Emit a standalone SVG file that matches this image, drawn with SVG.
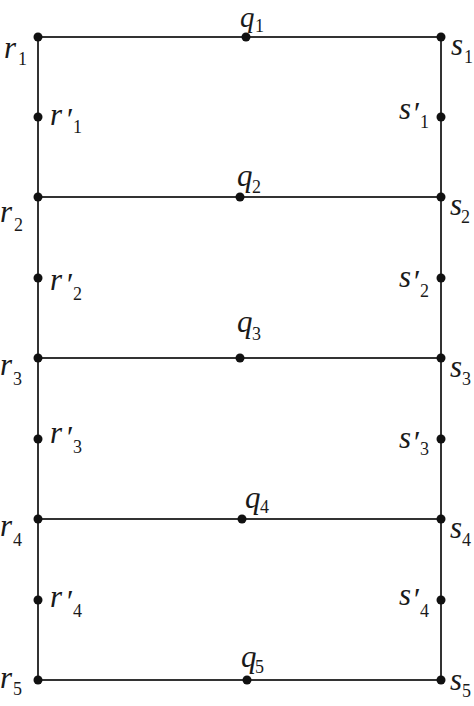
<svg xmlns="http://www.w3.org/2000/svg" width="474" height="706" viewBox="0 0 474 706">
<style>
.e{stroke:#333;stroke-width:2;fill:none}
.d{fill:#111}
text{font-family:'Liberation Serif','DejaVu Serif','Times New Roman',serif;fill:#1a1a1a}
.m{font-size:31px;font-style:italic}
.s{font-size:18px}
</style>
<rect width="474" height="706" fill="#fff"/>
<g id="connectors">
<line class="e" x1="38" y1="37" x2="441" y2="37"/>
<line class="e" x1="38" y1="197" x2="441" y2="197"/>
<line class="e" x1="38" y1="358" x2="441" y2="358"/>
<line class="e" x1="38" y1="519" x2="441" y2="519"/>
<line class="e" x1="38" y1="680" x2="441" y2="680"/>
<line class="e" x1="38" y1="37" x2="38" y2="680"/>
<line class="e" x1="441" y1="37" x2="441" y2="680"/>
</g>
<g id="r1"><circle class="d" cx="38" cy="37" r="4.5"/><text><tspan class="m" x="4" y="58">r</tspan><tspan class="s" x="18" y="65">1</tspan></text></g>
<g id="q1"><circle class="d" cx="246" cy="37" r="4.5"/><text><tspan class="m" x="240" y="27" style="font-size:29px">q</tspan><tspan class="s" x="255" y="32">1</tspan></text></g>
<g id="s1"><circle class="d" cx="441" cy="37" r="4.5"/><text><tspan class="m" x="451" y="55">s</tspan><tspan class="s" x="464" y="63">1</tspan></text></g>
<g id="r1p"><circle class="d" cx="38" cy="117" r="4.5"/><text><tspan class="m" x="50" y="125">r</tspan><tspan class="m" x="65" y="130">′</tspan><tspan class="s" x="73" y="133">1</tspan></text></g>
<g id="s1p"><circle class="d" cx="441" cy="117" r="4.5"/><text><tspan class="m" x="399" y="119">s</tspan><tspan class="m" x="412" y="124">′</tspan><tspan class="s" x="420" y="128">1</tspan></text></g>
<g id="r2"><circle class="d" cx="38" cy="197" r="4.5"/><text><tspan class="m" x="0" y="222">r</tspan><tspan class="s" x="14" y="231">2</tspan></text></g>
<g id="q2"><circle class="d" cx="240" cy="197" r="4.5"/><text><tspan class="m" x="237" y="186">q</tspan><tspan class="s" x="252" y="193">2</tspan></text></g>
<g id="s2"><circle class="d" cx="441" cy="197" r="4.5"/><text><tspan class="m" x="450" y="215">s</tspan><tspan class="s" x="461" y="223">2</tspan></text></g>
<g id="r2p"><circle class="d" cx="38" cy="278" r="4.5"/><text><tspan class="m" x="50" y="290">r</tspan><tspan class="m" x="65" y="295">′</tspan><tspan class="s" x="73" y="300">2</tspan></text></g>
<g id="s2p"><circle class="d" cx="441" cy="278" r="4.5"/><text><tspan class="m" x="399" y="287">s</tspan><tspan class="m" x="412" y="292">′</tspan><tspan class="s" x="420" y="297">2</tspan></text></g>
<g id="r3"><circle class="d" cx="38" cy="358" r="4.5"/><text><tspan class="m" x="0" y="375">r</tspan><tspan class="s" x="13" y="385">3</tspan></text></g>
<g id="q3"><circle class="d" cx="240" cy="358" r="4.5"/><text><tspan class="m" x="237" y="332">q</tspan><tspan class="s" x="252" y="340">3</tspan></text></g>
<g id="s3"><circle class="d" cx="441" cy="358" r="4.5"/><text><tspan class="m" x="450" y="377">s</tspan><tspan class="s" x="462" y="385">3</tspan></text></g>
<g id="r3p"><circle class="d" cx="38" cy="439" r="4.5"/><text><tspan class="m" x="50" y="443">r</tspan><tspan class="m" x="65" y="448">′</tspan><tspan class="s" x="73" y="453">3</tspan></text></g>
<g id="s3p"><circle class="d" cx="441" cy="439" r="4.5"/><text><tspan class="m" x="399" y="448">s</tspan><tspan class="m" x="412" y="453">′</tspan><tspan class="s" x="420" y="455">3</tspan></text></g>
<g id="r4"><circle class="d" cx="38" cy="519" r="4.5"/><text><tspan class="m" x="0" y="536">r</tspan><tspan class="s" x="13" y="546">4</tspan></text></g>
<g id="q4"><circle class="d" cx="242" cy="519" r="4.5"/><text><tspan class="m" x="245" y="508">q</tspan><tspan class="s" x="260" y="513">4</tspan></text></g>
<g id="s4"><circle class="d" cx="441" cy="519" r="4.5"/><text><tspan class="m" x="450" y="538">s</tspan><tspan class="s" x="462" y="546">4</tspan></text></g>
<g id="r4p"><circle class="d" cx="38" cy="600" r="4.5"/><text><tspan class="m" x="50" y="607">r</tspan><tspan class="m" x="65" y="612">′</tspan><tspan class="s" x="73" y="617">4</tspan></text></g>
<g id="s4p"><circle class="d" cx="441" cy="600" r="4.5"/><text><tspan class="m" x="399" y="605">s</tspan><tspan class="m" x="412" y="610">′</tspan><tspan class="s" x="420" y="617">4</tspan></text></g>
<g id="r5"><circle class="d" cx="38" cy="680" r="4.5"/><text><tspan class="m" x="0" y="688">r</tspan><tspan class="s" x="13" y="695">5</tspan></text></g>
<g id="q5"><circle class="d" cx="247" cy="680" r="4.5"/><text><tspan class="m" x="241" y="667">q</tspan><tspan class="s" x="255" y="673">5</tspan></text></g>
<g id="s5"><circle class="d" cx="441" cy="680" r="4.5"/><text><tspan class="m" x="450" y="690">s</tspan><tspan class="s" x="462" y="697">5</tspan></text></g>
</svg>
